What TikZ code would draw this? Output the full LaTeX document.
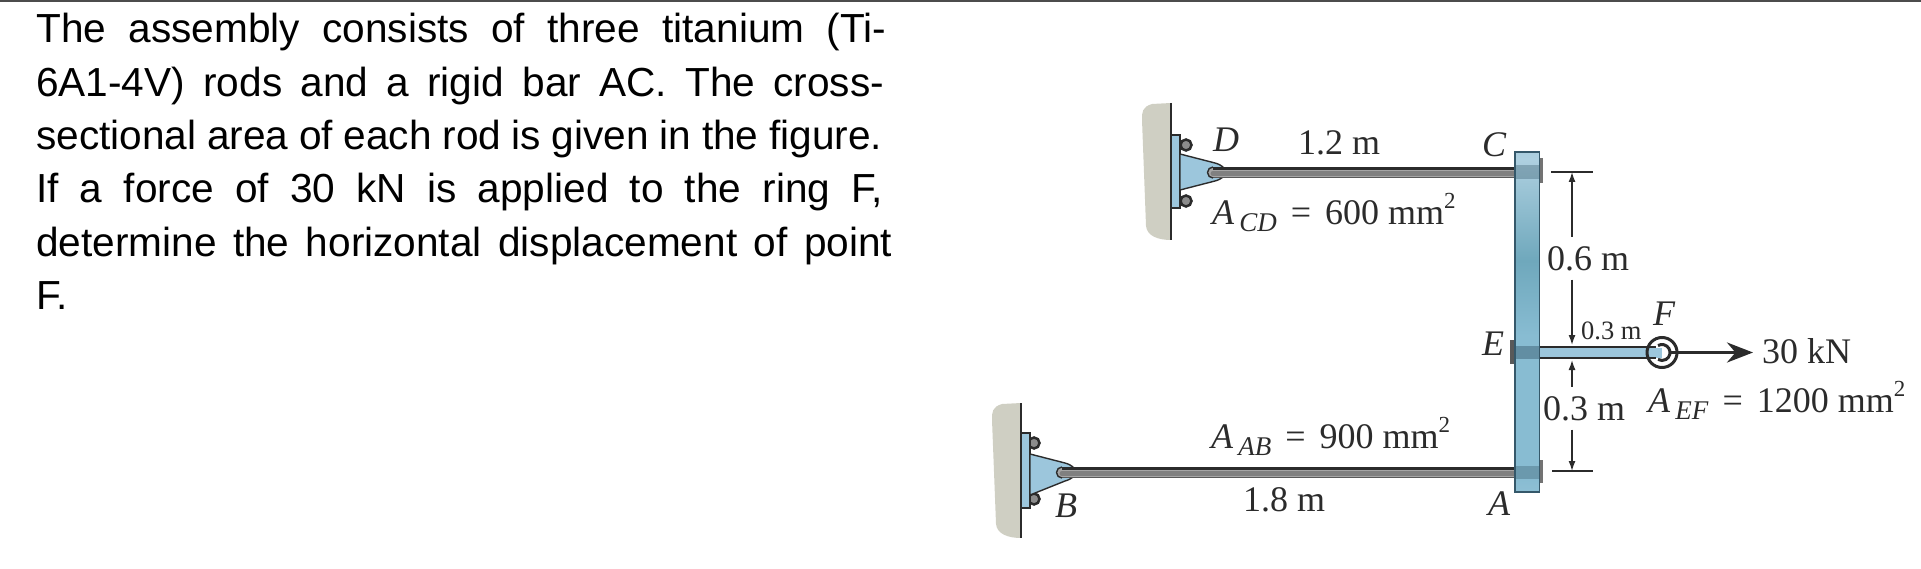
\documentclass[tikz,border=0pt]{standalone}
\usepackage{fontspec}
\setmainfont{Liberation Sans}
\newfontfamily\labelfont{Liberation Serif}
\usetikzlibrary{arrows.meta}
\definecolor{wallgray}{HTML}{CFCFC3}
\definecolor{inkdark}{HTML}{2B2B2B}
\definecolor{bracketblue}{HTML}{9CC6DC}
\definecolor{barline}{HTML}{35586A}
\definecolor{bardeep}{HTML}{6FA8BC}
\definecolor{barmid}{HTML}{88BCD2}
\definecolor{barpale}{HTML}{AED0E0}
\pgfdeclareverticalshading{barshade}{100bp}{
  color(0bp)=(bardeep); color(3.5bp)=(bardeep); color(8bp)=(barpale); color(15bp)=(barpale);
  color(27bp)=(barmid); color(48bp)=(barmid); color(59bp)=(bardeep);
  color(74bp)=(barpale); color(92bp)=(bardeep); color(100bp)=(bardeep)}
\newcommand{\areatext}[2]{{\labelfont\fontsize{36}{36}\selectfont\textit{A}\hspace{5pt}\raisebox{-7pt}{\fontsize{27}{27}\selectfont\textit{#1}}\hspace{14pt}=\hspace{14pt}#2~mm\raisebox{16pt}{\fontsize{23}{23}\selectfont 2}}}
\newcommand{\textline}[2]{\makebox[#1pt][s]{#2}\\}
\tikzset{
  lbl/.style = {anchor=base west, inner sep=0pt, text=inkdark, font=\labelfont\fontsize{36}{36}\selectfont},
  lblit/.style = {lbl, font=\labelfont\itshape\fontsize{36}{36}\selectfont},
  dimlbl/.style = {lbl, inner ysep=9pt},
  plate/.style = {draw=inkdark, line width=1.4pt, fill=bracketblue},
  dim/.style = {draw=inkdark, line width=1.4pt},
  dimarrow/.style = {dim, -{Latex[length=10pt,width=7pt]}},
  bolt/.style = {circle, draw=inkdark, line width=2.5pt, fill=black!45, minimum size=11pt, inner sep=0pt}
}
\begin{document}
\begin{tikzpicture}[x=1pt,y=-1pt]
\useasboundingbox (0,0) rectangle (1921,569);
\draw[line width=1.6pt, color=black!70] (0,0.8) -- (1921,0.8);

\node[anchor=north west, inner sep=0pt, align=left,
      font=\fontsize{40.6}{53.4}\selectfont] (problem) at (36,13) {\spaceskip=.2em plus 1em minus .05em
\textline{850}{The assembly consists of three titanium (Ti-}
\textline{848}{6A1-4V) rods and a rigid bar AC. The cross-}
\textline{846}{sectional area of each rod is given in the figure.}
\textline{847}{If a force of 30 kN is applied to the ring F,}
\textline{856}{determine the horizontal displacement of point}
F.};

% walls and brackets
\fill[wallgray] (1171,103) -- (1152,104) .. controls (1142,107) and (1142,112) .. (1142,120) -- (1146,226) .. controls (1147,236) and (1158,240) .. (1171,240) -- cycle;
\fill[wallgray] (1021,403) -- (1002,404) .. controls (992,407) and (992,412) .. (992,420) -- (996,524) .. controls (997,534) and (1008,538) .. (1021,538) -- cycle;
\draw[inkdark, line width=2pt] (1171,103) -- (1171,240);
\draw[inkdark, line width=2pt] (1021,403) -- (1021,538);
\node[bolt] (boltD1) at (1186,145) {};
\node[bolt] (boltD2) at (1186,201) {};
\node[bolt] (boltB1) at (1034,443) {};
\node[bolt] (boltB2) at (1034,499) {};
\draw[plate] (1171,135) rectangle (1180,208);
\draw[plate] (1021,433) rectangle (1030,508);
\draw[plate] (1180,154) -- (1215,163) .. controls (1222,165) and (1225,168) .. (1225,172) .. controls (1225,176) and (1222,179) .. (1215,181) -- (1180,190) -- cycle;
\draw[plate] (1030,454) -- (1065,463) .. controls (1072,465) and (1075,468) .. (1075,472) .. controls (1075,476) and (1072,479) .. (1065,481) -- (1030,495) -- cycle;

% rods
\coordinate (D) at (1213,172.5);
\coordinate (C) at (1515,172.5);
\coordinate (B) at (1062,472.5);
\coordinate (A) at (1515,472.5);
\coordinate (E) at (1540,352.5);
\coordinate (F) at (1662,352.5);
\foreach \from/\to in {D/C,B/A}{
  \draw[line width=11pt, black!35, line cap=round] (\from) -- (\to);
  \draw[line width=5pt, black!50, line cap=round] ([yshift=-1pt]\from) -- ([yshift=-1pt]\to);
  \draw[line width=3pt, inkdark] ([yshift=4pt]\from) -- ([yshift=4pt]\to);
  \draw[line width=1pt, black!65] ([yshift=-5pt]\from) -- ([yshift=-5pt]\to);
  \draw[line width=1.4pt, inkdark] (\from) ++(0,-5.5) arc[start angle=90, end angle=270, radius=5.5pt];
}

% rigid bar
\fill[black!55] (1538,158) rectangle (1543,183);
\fill[black!55] (1538,460) rectangle (1543,483);
\fill[black!65] (1510,340) rectangle (1516,364);
\draw[barline, line width=1.8pt, shading=barshade] (1515,152) rectangle (1539.5,492);
\fill[barline, opacity=.35] (1515,165.5) rectangle (1540,179);
\fill[barline, opacity=.35] (1515,466) rectangle (1540,479);
\fill[barline, opacity=.45] (1515,346) rectangle (1540,358.5);

% ring and tie rod
\fill[white] (F) circle (15pt);
\draw[line width=10pt, bracketblue] (E) -- (F);
\draw[inkdark, line width=2.4pt] ([yshift=5.5pt]E) -- ([yshift=5.5pt,xshift=-6pt]F);
\draw[inkdark, line width=1.2pt] ([yshift=-5.5pt]E) -- ([yshift=-5.5pt,xshift=-6pt]F);
\draw[inkdark, line width=3pt] (F) circle (15pt);
\draw[inkdark, line width=3pt] ([shift={(120:8pt)}]F) arc[start angle=120, end angle=-120, radius=8pt];
\coordinate (tip) at (1753,352.5);
\coordinate (tail) at (1671,352.5);
\draw[inkdark, line width=3.4pt, -{Stealth[length=26pt,width=20pt]}] (tail) -- (tip);

% dimensions
\coordinate (topdim) at (1572,172);
\coordinate (botdim) at (1572,471);
\coordinate (uppertip) at (1572,345);
\coordinate (lowertip) at (1572,360);
\draw[dim] (1551,172) -- (1593,172);
\draw[dim] (1552,471) -- (1593,471);
\node[dimlbl] (sixlbl) at (1547,270) {0.6 m};
\node[dimlbl] (threelbl) at (1543,420) {0.3 m};
\draw[dimarrow] (sixlbl.north -| topdim) -- (topdim);
\draw[dimarrow] (sixlbl.south -| topdim) -- (uppertip);
\draw[dimarrow] (threelbl.north -| topdim) -- (lowertip);
\draw[dimarrow] (threelbl.south -| topdim) -- (botdim);

% labels
\node[lblit] (Dlbl) at (1213,152) {D};
\node[lblit] (Clbl) at (1482,157) {C};
\node[lblit] (Blbl) at (1055,517) {B};
\node[lblit] (Albl) at (1488,515) {A};
\node[lblit] (Elbl) at (1482,355) {E};
\node[lblit] (Flbl) at (1653,325) {F};
\node[lbl] (topspan) at (1298,155) {1.2 m};
\node[lbl] (botspan) at (1243,511) {1.8 m};
\node[lbl, font=\labelfont\fontsize{26.5}{26.5}\selectfont] (efspan) at (1581,339) {0.3 m};
\node[lbl] (force) at (1762,363) {30 kN};
\node[lbl] (areaCD) at (1212,225) {\areatext{CD}{600}};
\node[lbl] (areaAB) at (1211,448) {\areatext{AB}{900}};
\node[lbl] (areaEF) at (1648,412) {\areatext{EF}{1200}};
\end{tikzpicture}
\end{document}
